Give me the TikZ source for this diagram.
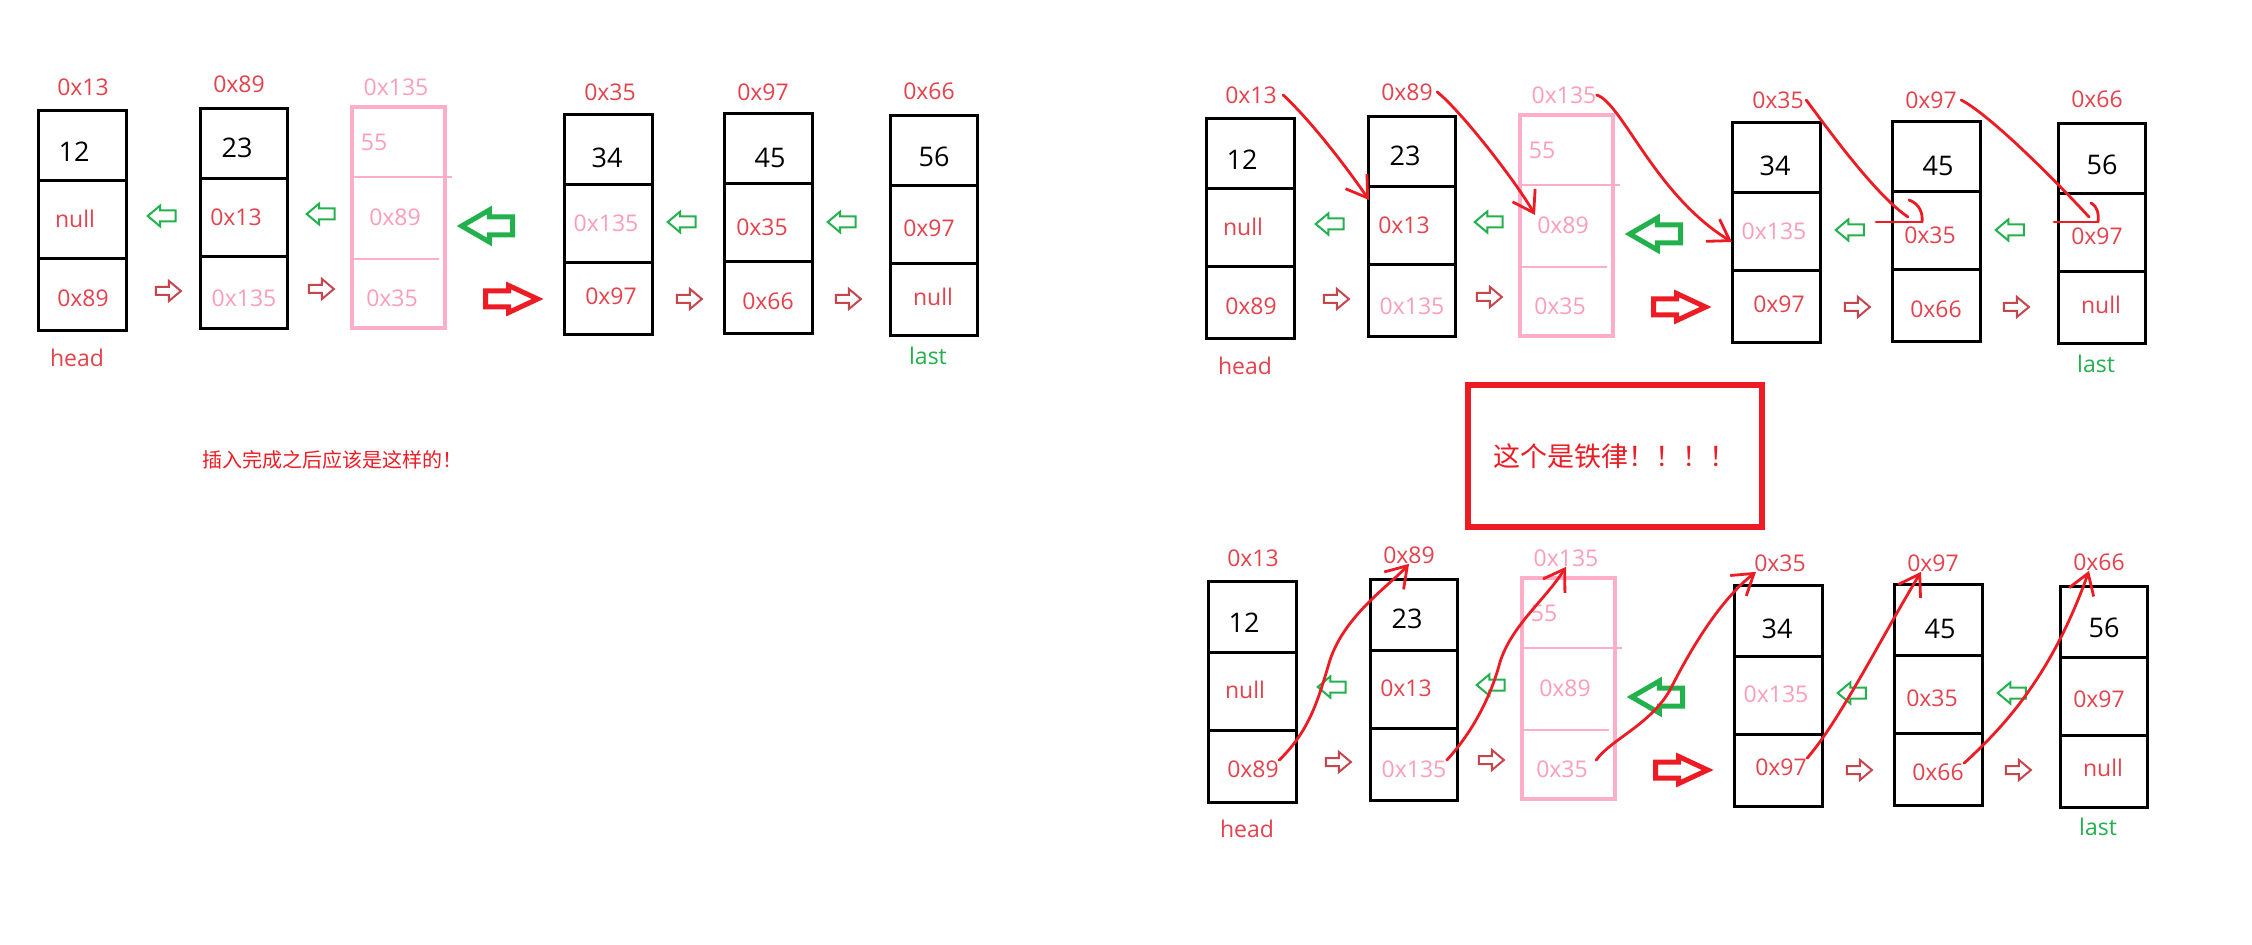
\documentclass[tikz,border=0pt]{standalone}
\usepackage{fontspec}
\setmainfont{Open Sans}
\newfontfamily\cjk{Noto Sans CJK SC}
\usetikzlibrary{positioning,arrows.meta,calc,shapes.arrows}
\definecolor{cAddr}{RGB}{228,66,76}
\definecolor{cPink}{RGB}{255,174,201}
\definecolor{cPinkT}{RGB}{252,158,186}
\definecolor{cGreen}{RGB}{34,177,76}
\definecolor{cRed}{RGB}{237,28,36}
\definecolor{cDark}{RGB}{198,70,78}
\begin{document}
\begin{tikzpicture}[x=0.5pt,y=-0.5pt,
  num/.style={inner sep=0pt,font=\fontsize{13.5}{16}\selectfont},
  adr/.style={inner sep=0pt,text=cAddr,font=\fontsize{11.5}{14}\selectfont},
  pnk/.style={adr,text=cPinkT},
  grn/.style={adr,text=cGreen},
  cell/.style={draw=black,line width=1.5pt},
  newcell/.style={draw=cPink,line width=2.2pt},
  newline/.style={draw=cPink,line width=1.2pt},
  arrL/.style={single arrow,shape border rotate=180,draw=cGreen,line width=1pt,inner xsep=0pt,inner ysep=2.25pt,
    minimum height=14pt,single arrow head extend=2.5pt,single arrow tip angle=80},
  arrR/.style={single arrow,draw=cDark,line width=1pt,inner xsep=0pt,inner ysep=1.5pt,
    minimum height=12.5pt,single arrow head extend=3pt,single arrow tip angle=80},
  bigL/.style={arrL,line width=2.5pt,minimum height=25.5pt,inner ysep=3.25pt,
    single arrow head extend=3.5pt,single arrow tip angle=60},
  bigR/.style={arrR,draw=cRed,line width=2.5pt,minimum height=26pt,inner ysep=2.75pt,
    single arrow head extend=2.75pt,single arrow tip angle=50},
  hand/.style={draw=cRed,line width=1.4pt,line cap=round,line join=round},
  barb/.style={hand,-{Straight Barb[length=10pt,width=13pt]}},
  rulebox/.style={draw=cRed,line width=3pt,text=cRed,minimum width=147pt,minimum height=71pt,
    font=\cjk\fontsize{13.5}{16}\selectfont}]
\useasboundingbox (0,0) rectangle (2252,945);
\fill[white] (0,0) rectangle (2252,945);
% three copies of the list: a = after insert, b = prev links, c = next links
\foreach \dx/\dy/\p in {0/0/a,1168/8/b,1170/471/c}{
\begin{scope}[shift={(\dx,\dy)}]
  % old nodes (black)
  \foreach \xl/\xr/\yt in {38/126/111,200/287/109,564/652/115,724/812/114,890/977/116}{
    \draw[cell] (\xl,\yt) rectangle (\xr,\yt+220);
    \draw[cell] (\xl,\yt+70)--(\xr,\yt+70);
    \draw[cell] (\xl,\yt+148)--(\xr,\yt+148);
  }
  % inserted node (pink)
  \draw[newcell] (352,107) rectangle (445,328);
  \draw[newline] (352,177)--(452,177);
  \draw[newline] (352,259)--(439,259);
  % addresses above the nodes
  \foreach \n/\x/\y/\sty/\txt in {1/83/87/adr/0x13,2/239/84/adr/0x89,3/396/87/pnk/0x135,
      4/610/92/adr/0x35,5/763/92/adr/0x97,6/929/91/adr/0x66}
    \node[\sty] (l\p\n) at (\x,\y) {\txt};
  % data / prev / next fields
  \foreach \n/\x/\y/\sty/\txt in {11/74/152/num/12,12/75/219/adr/null,13/83/298/adr/0x89,
      21/237/148/num/23,22/236/217/adr/0x13,23/244/298/pnk/0x135,
      31/374/142/pnk/55,32/395/217/pnk/0x89,33/392/298/pnk/0x35,
      41/607/158/num/34,42/606/223/pnk/0x135,43/611/296/adr/0x97,
      51/770/158/num/45,52/762/227/adr/0x35,53/768/301/adr/0x66,
      61/934/157/num/56,62/929/228/adr/0x97,63/933/297/adr/null}
    \node[\sty] (t\p\n) at (\x,\y) {\txt};
  \node[adr] (head\p) at (77,358) {head};
  \node[grn] (last\p) at (928,356) {last};
  % prev (green) and next (red) block arrows
  \foreach \n/\x/\y in {1/165/216,2/324/214,3/685/222,4/845/222}
    \node[arrL] (gl\p\n) at (\x,\y) {};
  \foreach \n/\x/\y in {1/166/291,2/319/289,3/687/299,4/846/299}
    \node[arrR] (gr\p\n) at (\x,\y) {};
  \node[bigL] (bg\p) at (495,226) {};
  \node[bigR] (br\p) at (503,299) {};
\end{scope}
}
\node[anchor=west,text=cRed,inner sep=0pt,font=\cjk\fontsize{10}{12}\selectfont] (note) at (202,460)
  {插入完成之后应该是这样的！};
\node[rulebox] (rule) at (1615,456) {这个是铁律！！！！};
% hand drawn links, upper copy: address -> prev field
\coordinate (tipb1) at (1369,200);
\coordinate (tipb2) at (1535,215);
\coordinate (tipb3) at (1732,242);
\coordinate (tipb4) at (1908,217);
\coordinate (tipb5) at (2089,217);
\draw[barb] ([xshift=3pt]lb1.east) .. controls (1310,120) and (1345,165) .. (tipb1);
\draw[barb] ([xshift=2pt]lb2.east) .. controls (1460,110) and (1515,180) .. (tipb2);
\draw[barb] (lb3.east) .. controls (1622,103) and (1655,195) .. (tipb3);
\draw[hand] ([xshift=1pt]lb4.east) .. controls (1825,125) and (1875,195) .. (tipb4);
\draw[hand] ([xshift=2pt]lb5.east) .. controls (1990,115) and (2055,180) .. (tipb5);
\draw[hand] (1909,200) .. controls (1920,204) and (1923,214) .. (1922,222);
\draw[hand] (1876,222)--(1922,222);
\draw[hand] (2091,203) .. controls (2098,207) and (2099,215) .. (2098,222);
\draw[hand] (2054,222)--(2098,222);
% hand drawn links, lower copy: next field -> address
\draw[barb] (tc13.north east) .. controls (1310,730) and (1318,700) .. (1330,660)
  .. controls (1345,615) and (1390,585) .. (lc2.south);
\draw[barb] (tc23.north east) .. controls (1470,735) and (1490,700) .. (1500,662)
  .. controls (1512,625) and (1545,600) .. (lc3.south);
\draw[barb] ([xshift=4pt]tc33.north east) .. controls (1610,740) and (1650,725) .. (1670,690)
  .. controls (1690,650) and (1720,600) .. ([xshift=-12pt]lc4.south);
\draw[barb] (tc43.north east) .. controls (1840,720) and (1880,640) .. ([xshift=-6pt]lc5.south);
\draw[barb] (tc53.north east) .. controls (2000,730) and (2050,680) .. ([xshift=-5pt]lc6.south);
\end{tikzpicture}
\end{document}
